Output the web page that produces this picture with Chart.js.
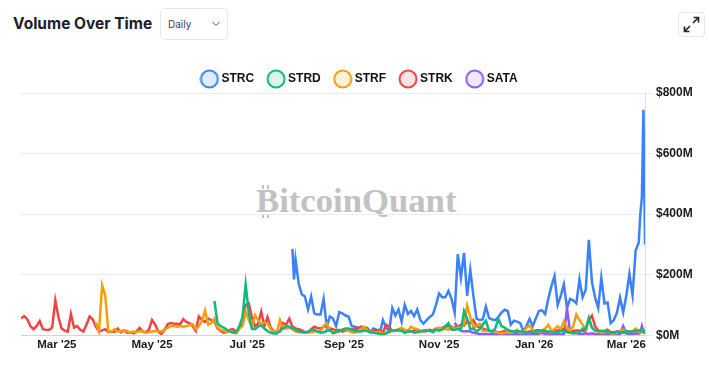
<!DOCTYPE html>
<html>
<head>
<meta charset="utf-8">
<script src="https://cdn.jsdelivr.net/npm/chart.js@4"></script>
<style>
html,body{margin:0;padding:0;background:#fff;width:709px;height:381px;overflow:hidden}
#title{position:absolute;left:13px;top:14px;font:700 15.5px Inter,sans-serif;color:#1a202c;white-space:nowrap}
#sel{position:absolute;left:160px;top:8px;width:66px;height:30px;border:1px solid #e5e7eb;border-radius:5px;font:10px Inter,sans-serif;color:#374151;line-height:30px;text-indent:7px;box-sizing:content-box}
#sel svg{position:absolute;left:50px;top:12px}
#exp{position:absolute;left:678px;top:12px;width:25px;height:23px;border:1px solid #e5e7eb;border-radius:4px}
#exp svg{position:absolute;left:3px;top:2px}
#wm{position:absolute;left:256px;top:181px;font:700 34.7px "Liberation Serif",serif;color:#c2c2c2;white-space:nowrap}
.bar{position:absolute;width:2px;height:4px;background:#c2c2c2}
canvas{position:absolute;left:0;top:0}
</style>
</head>
<body>
<div id="wm">BitcoinQuant<i class="bar" style="left:6px;top:4px"></i><i class="bar" style="left:11px;top:4px"></i><i class="bar" style="left:6px;top:33px"></i><i class="bar" style="left:11px;top:33px"></i></div>
<div id="title">Volume Over Time</div>
<div id="sel">Daily<svg width="10" height="6" viewBox="0 0 10 6"><path d="M1.5 1 5 4.5 8.5 1" fill="none" stroke="#555" stroke-width="1"/></svg></div>
<div id="exp"><svg width="19" height="19" viewBox="0 0 19 19" fill="none" stroke="#1f2937" stroke-width="1.7"><path d="M11 8 16 3M11.5 2.5H16.5V7.5M8 11 3 16M2.5 11.5V16.5H7.5"/></svg></div>
<canvas id="c" width="709" height="381"></canvas>
<script>
const startDate = '2025-02-06';
const dayOffsets = [];
for (let d = 0; d <= 174; d += 2) dayOffsets.push(d);
dayOffsets.push(175);
for (let d = 176; d <= 394; d += 2) dayOffsets.push(d);
dayOffsets.push(396, 397, 398, 399, 400);

const tickDates = ['2025-03-01','2025-05-01','2025-07-01','2025-09-01','2025-11-01','2026-01-01','2026-03-01'];
const tickLabels = ["Mar '25","May '25","Jul '25","Sep '25","Nov '25","Jan '26","Mar '26"];
const valueTicks = [0,200,400,600,800];
const seriesNames = ['STRC','STRD','STRF','STRK','SATA'];
const seriesColors = ['#3b82f6','#10b981','#f59e0b','#ef4444','#8b5cf6'];

const STRC = Array(87).fill(null).concat([285,184,250,170,
135,128,85,128,72,68,68,120,28,62,
55,30,76,72,65,62,30,28,25,16,
25,24,10,22,18,6,50,25,14,90,
65,85,45,100,70,80,63,85,50,38,
50,60,68,100,138,125,125,146,120,74,
268,190,272,130,216,130,55,50,52,94,
57,52,50,60,75,84,80,35,48,45,
40,13,30,54,30,55,80,82,70,120,
162,195,100,130,168,90,120,115,105,185,
125,150,315,175,125,90,190,105,108,40,
50,74,124,75,130,202,132,280,
306,400,455,745,300]);

const STRD = Array(62).fill(null).concat([113,40,30,25,18,12,8,10,
30,60,168,75,22,20,28,33,22,14,
8,6,6,14,22,30,28,22,20,18,14,
10,10,12,16,18,12,8,10,14,18,
6,10,14,18,22,22,18,14,12,12,
15,14,10,8,6,4,2,5,12,15,
16,18,14,8,12,14,8,10,12,16,
14,16,10,18,15,18,30,40,18,18,
20,16,80,55,20,22,12,20,35,48,
14,12,22,54,30,25,18,14,12,14,
12,10,10,10,10,12,14,16,14,12,
10,10,10,14,12,10,8,6,8,10,
22,20,58,25,15,14,15,12,12,8,
8,12,8,10,14,10,12,16,
14,18,14,10,16]);

const STRF = Array(24).fill(null).concat([42,12,165,130,12,12,
20,12,14,16,14,8,12,10,14,12,
8,10,12,14,14,12,18,24,30,31,
28,30,28,30,33,36,20,30,46,82,
35,40,55,25,18,15,10,15,10,6,
22,30,78,50,25,66,50,35,42,40,
20,10,10,50,22,22,25,20,16,12,10,
10,8,8,10,12,14,12,30,40,15,
12,10,12,18,20,14,10,8,14,20,
28,16,12,10,8,12,3,10,10,15,
15,20,24,18,15,28,22,20,15,12,
18,15,12,20,25,22,20,18,30,20,
25,28,35,98,60,25,30,38,15,14,
16,14,12,8,6,8,10,8,12,18,
8,8,25,32,18,14,10,14,22,34,
14,20,30,20,46,25,14,30,68,50,
35,18,52,25,14,12,8,10,12,6,
6,8,14,18,12,10,12,22,
10,14,12,16,10]);

const STRK = [55,63,53,30,20,30,47,20,18,17,
26,115,60,22,15,12,70,25,30,18,
12,35,62,52,28,12,16,20,10,13,
11,22,10,16,8,10,6,12,24,12,
10,18,50,35,12,4,18,36,40,38,
38,36,53,44,40,30,14,62,50,44,
55,50,46,22,14,8,10,18,20,10,
22,40,100,105,60,30,38,78,30,60,
25,12,12,12,40,35,55,28,26,22,20,
16,10,10,20,28,24,22,28,30,22,
20,16,18,12,15,18,20,20,22,28,
25,20,14,12,15,18,8,35,28,14,
14,16,18,14,12,12,16,18,14,12,
14,18,16,22,20,25,28,30,28,25,
28,35,32,45,40,50,30,25,22,18,
15,14,12,10,10,14,10,12,10,10,
12,10,10,12,14,16,16,15,12,10,
12,14,16,18,20,14,14,14,16,15,
15,15,50,65,30,15,12,14,18,10,
10,12,14,8,10,12,12,16,
14,10,16,18,14];

const SATA = Array(140).fill(null).concat([41,
25,14,12,14,12,8,6,4,4,4,
3,3,2,3,3,2,3,2,2,3,
2,3,2,2,3,3,5,8,3,2,
2,3,3,2,4,88,10,8,6,5,
4,6,4,6,3,3,3,2,3,2,
3,2,3,30,6,3,4,6,
5,10,30,12,6]);

const seriesValues = [STRC, STRD, STRF, STRK, SATA];
const drawOrder = [5, 1, 2, 3, 4];
const DAY = 86400000;
const t0 = Date.parse(startDate);
const tickDays = tickDates.map(d => (Date.parse(d) - t0) / DAY);

function alpha(hex, a){
  const n = parseInt(hex.slice(1), 16);
  return `rgba(${n>>16},${(n>>8)&255},${n&255},${a})`;
}

function legendDot(color){
  const c = document.createElement('canvas');
  c.width = 20; c.height = 20;
  const g = c.getContext('2d');
  g.beginPath();
  g.arc(10, 10, 8.5, 0, Math.PI * 2);
  g.fillStyle = alpha(color, 0.15);
  g.fill();
  g.lineWidth = 2;
  g.strokeStyle = color;
  g.stroke();
  return c;
}

const compactLegend = {
  id: 'compactLegend',
  beforeLayout(chart){
    const l = chart.legend;
    if (l && !l._compact) {
      const f = l.fit;
      l.fit = function(){ f.call(this); this.height = 36; };
      l._compact = true;
    }
  },
  afterLayout(chart){
    chart.legend.left += 6;
  }
};

new Chart(document.getElementById('c'), {
  type: 'line',
  data: {
    datasets: seriesNames.map((name, s) => ({
      label: name,
      data: dayOffsets.map((d, i) => ({x: d, y: seriesValues[s][i]})),
      borderColor: seriesColors[s],
      backgroundColor: alpha(seriesColors[s], 0.15),
      borderWidth: 2.5,
      pointRadius: 0,
      pointStyle: legendDot(seriesColors[s]),
      tension: 0,
      fill: false,
      order: drawOrder[s]
    }))
  },
  plugins: [compactLegend],
  options: {
    responsive: false,
    animation: false,
    layout: {padding: {left: 21, right: 15, top: 57, bottom: 26}},
    plugins: {
      tooltip: {enabled: false},
      legend: {
        position: 'top',
        labels: {
          usePointStyle: true, pointStyleWidth: 12,
          boxHeight: 12, padding: 16,
          sort: (a, b) => a.datasetIndex - b.datasetIndex,
          color: '#111', font: {family: '"Liberation Sans"', size: 12, weight: 'bold'}
        }
      }
    },
    scales: {
      x: {
        type: 'linear', min: 0, max: 400,
        afterBuildTicks: sc => { sc.ticks = tickDays.map(v => ({value: v})); },
        grid: {display: false, drawTicks: false, tickLength: 0},
        border: {color: '#d4d4d4', width: 1},
        ticks: {
          autoSkip: false, maxRotation: 0, padding: 3, color: '#1a1a1a',
          font: {family: '"Liberation Sans"', size: 11.5, weight: 'bold'},
          callback: v => tickLabels[tickDays.indexOf(v)]
        }
      },
      y: {
        position: 'right', min: 0, max: 800,
        afterBuildTicks: sc => { sc.ticks = valueTicks.map(v => ({value: v})); },
        afterFit: sc => { sc.width = 49; },
        grid: {color: '#ececec', tickLength: 8},
        border: {color: '#e0e0e0', width: 1},
        ticks: {
          padding: 3, color: '#1a1a1a',
          font: {family: '"Liberation Sans"', size: 12, weight: 'bold'},
          callback: v => '$' + v + 'M'
        }
      }
    }
  }
});
</script>
</body>
</html>
